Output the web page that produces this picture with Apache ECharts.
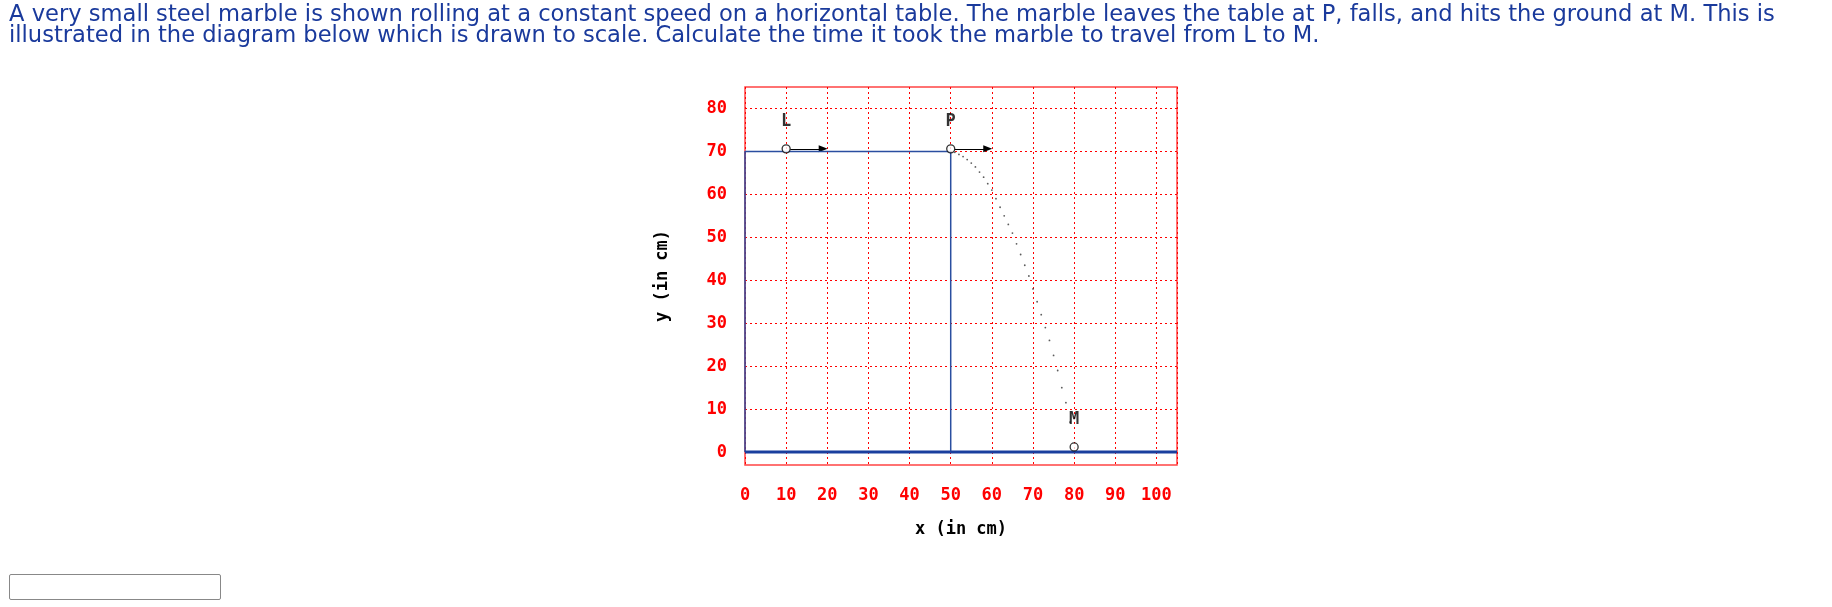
<!DOCTYPE html>
<html>
<head>
<meta charset="utf-8">
<script src="https://cdn.jsdelivr.net/npm/echarts@6/dist/echarts.min.js"></script>
<style>
  body { margin: 0; background: #fff; }
  #q { position: absolute; left: 9px; top: 3px; font-family: "DejaVu Sans", Verdana, sans-serif; font-size: 22.6px; line-height: 21px; color: #1a3a9c; width: 1825px; white-space: nowrap; }
  #box { position: absolute; left: 9px; top: 574px; width: 210px; height: 24px; border: 1px solid #888; border-radius: 2px; }
  #chart { width: 1832px; height: 607px; }
</style>
</head>
<body>
<div id="chart"></div>
<div id="q">A very small steel marble is shown rolling at a constant speed on a horizontal table. The marble leaves the table at P, falls, and hits the ground at M. This is<br>illustrated in the diagram below which is drawn to scale. Calculate the time it took the marble to travel from L to M.</div>
<div id="box"></div>
<script>
  // 桌面轮廓与地面
  const tableEdge = [[0, 0], [0, 70], [50, 70], [50, 0]];
  const ground = [[0, 0], [105, 0]];
  // 抛物线轨迹
  const path = [[51, 69.8], [52, 69.3], [53, 68.8], [54, 68.1], [55, 67.3], [56, 66.4], [57, 65.2], [58, 64], [59, 62.5],
    [60, 61], [61, 59], [62, 57], [63, 55], [64, 53], [65, 51], [66, 48.5], [67, 46], [68, 43.5], [69, 41], [70, 38],
    [71, 35], [72, 32], [73, 29], [74, 26], [75, 22.5], [76, 19], [77, 15], [78, 11.5], [79, 7]];
  const marbles = [[10, 70.6, 'L'], [50, 70.6, 'P'], [80, 1.2, 'M']];
  const arrows = [[[11, 70.6], [19, 70.6]], [[51, 70.6], [59, 70.6]]];
  const yTicks = [0, 10, 20, 30, 40, 50, 60, 70, 80];

  const red = '#ff0000';
  const mono = 'DejaVu Sans Mono';
  const chart = echarts.init(document.getElementById('chart'));
  chart.setOption({
    animation: false,
    grid: { left: 745, right: 655, top: 87, bottom: 142, show: true, borderColor: '#ff4444', borderWidth: 1.5 },
    xAxis: {
      type: 'value', min: 0, max: 105, interval: 10,
      name: 'x (in cm)', nameLocation: 'middle', nameGap: 56,
      nameTextStyle: { fontFamily: mono, fontWeight: 'bold', fontSize: 17, color: '#000' },
      axisLine: { show: false }, axisTick: { show: false },
      axisLabel: { color: red, fontFamily: mono, fontWeight: 'bold', fontSize: 17, margin: 22, showMaxLabel: false },
      splitLine: { lineStyle: { color: red, type: [2, 3], width: 1 } }
    },
    yAxis: {
      type: 'value', min: -3, max: 85,
      name: 'y (in cm)', nameLocation: 'middle', nameGap: 74,
      nameTextStyle: { fontFamily: mono, fontWeight: 'bold', fontSize: 17, color: '#000' },
      axisLine: { show: false }, axisTick: { show: false },
      axisLabel: { customValues: yTicks, color: red, fontFamily: mono, fontWeight: 'bold', fontSize: 17, margin: 18 },
      splitLine: { show: false }
    },
    series: [
      {
        type: 'line', data: [], silent: true,
        markLine: {
          symbol: 'none', silent: true, label: { show: false },
          lineStyle: { color: red, type: [2, 3], width: 1 },
          data: yTicks.slice(1).map(v => ({ yAxis: v }))
        }
      },
      { type: 'line', data: tableEdge, symbol: 'none', lineStyle: { color: '#2a4ea0', width: 1.5 }, z: 5 },
      { type: 'line', data: ground, symbol: 'none', lineStyle: { color: '#1a3f9e', width: 3 }, z: 5 },
      { type: 'scatter', data: path, symbolSize: 1.8, itemStyle: { color: '#333' }, z: 6 },
      {
        type: 'line', data: [], silent: true, z: 7,
        markLine: {
          symbol: ['none', 'triangle'], symbolSize: [7, 9], silent: true, label: { show: false },
          lineStyle: { color: '#000', width: 1.2, type: 'solid' },
          data: arrows.map(a => [{ coord: a[0] }, { coord: a[1] }])
        }
      },
      {
        type: 'scatter', data: marbles, symbol: 'circle', symbolSize: 8,
        itemStyle: { color: '#fff', borderColor: '#000', borderWidth: 1.3 }, z: 8,
        label: { show: true, position: 'top', distance: 14, formatter: p => p.data[2], fontFamily: mono, fontWeight: 'bold', fontSize: 17, color: '#000' }
      }
    ]
  });
</script>
</body>
</html>
